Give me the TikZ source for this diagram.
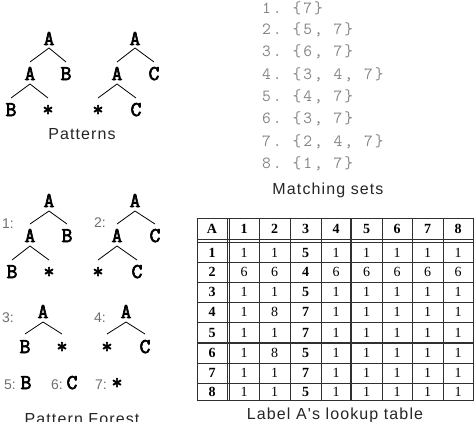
\documentclass[tikz,border=0pt]{standalone}
\usepackage{fontspec}
\setmainfont{Liberation Serif}
\newfontfamily\treefont[FakeBold=3]{Latin Modern Mono}
\newfontfamily\msfont[LetterSpace=12]{Latin Modern Mono}
\newfontfamily\capfont[LetterSpace=7]{Liberation Sans}
\newfontfamily\labfont{Liberation Sans}
\definecolor{msgray}{HTML}{858585}
\definecolor{labgray}{HTML}{707070}
\definecolor{gridc}{HTML}{303030}
\begin{document}
\begin{tikzpicture}[x=1pt,y=-1pt,
  tl/.style={font=\treefont\fontsize{21}{21}\selectfont, inner sep=0pt, anchor=base},
  br/.style={line width=0.8pt, line join=miter},
  ms/.style={font=\msfont\fontsize{17}{17}\selectfont, text=msgray, anchor=west, inner sep=0pt},
  capt/.style={font=\capfont\fontsize{16}{16}\selectfont, anchor=base, inner sep=0pt, text=black!85},
  lab/.style={font=\labfont\fontsize{14}{14}\selectfont, text=labgray, inner sep=0pt, anchor=base east},
  tbold/.style={font=\fontsize{14}{14}\selectfont\bfseries, inner sep=0pt},
  treg/.style={font=\fontsize{14}{14}\selectfont, inner sep=0pt},
  grid/.style={draw=gridc, line width=0.6pt},
  gthick/.style={draw=gridc, line width=1.4pt}]
\useasboundingbox[fill=white] (0,0) rectangle (474,421);

% ---------- Patterns ----------
\node[tl] (p1r) at (49,45) {A};
\node[tl] (p1a) at (30,80) {A};
\node[tl] (p1b) at (66,80) {B};
\node[tl] (p1bb) at (11,116) {B};
\node[tl] (p1s) at (48,116) {*};
\draw[br] ([yshift=18pt]p1a.base) -- ([yshift=-3pt]p1r.base) -- ([yshift=18pt]p1b.base);
\draw[br] ([yshift=18pt]p1bb.base) -- ([yshift=-4pt]p1a.base) -- ([yshift=18pt]p1s.base);

\node[tl] (p2r) at (135,45) {A};
\node[tl] (p2a) at (117,80) {A};
\node[tl] (p2c) at (154,80) {C};
\node[tl] (p2s) at (98,116) {*};
\node[tl] (p2cc) at (136,116) {C};
\draw[br] ([yshift=18pt]p2a.base) -- ([yshift=-3pt]p2r.base) -- ([yshift=18pt]p2c.base);
\draw[br] ([yshift=18pt]p2s.base) -- ([yshift=-4pt]p2a.base) -- ([yshift=18pt]p2cc.base);

\node[capt] (patcap) at (82,139) {Patterns};

% ---------- Matching sets ----------
\node[ms] (m1) at (262,8) {1.~\{7\}};
\node[ms] (m2) at (262,30) {2.~\{5,~7\}};
\node[ms] (m3) at (262,52) {3.~\{6,~7\}};
\node[ms] (m4) at (262,75) {4.~\{3,~4,~7\}};
\node[ms] (m5) at (262,97) {5.~\{4,~7\}};
\node[ms] (m6) at (262,119) {6.~\{3,~7\}};
\node[ms] (m7) at (262,142) {7.~\{2,~4,~7\}};
\node[ms] (m8) at (262,164) {8.~\{1,~7\}};
\node[capt] (mscap) at (328,194) {Matching sets};

% ---------- Pattern Forest ----------
\node[lab] (l1) at (14,228) {1:};
\node[tl] (f1r) at (49,207) {A};
\node[tl] (f1a) at (30,242) {A};
\node[tl] (f1b) at (67,242) {B};
\node[tl] (f1bb) at (12,278) {B};
\node[tl] (f1s) at (49,278) {*};
\draw[br] ([yshift=18pt]f1a.base) -- ([yshift=-4pt]f1r.base) -- ([yshift=18pt]f1b.base);
\draw[br] ([yshift=18pt]f1bb.base) -- ([yshift=-4pt]f1a.base) -- ([yshift=18pt]f1s.base);

\node[lab] (l2) at (106,227) {2:};
\node[tl] (f2r) at (135,207) {A};
\node[tl] (f2a) at (117,242) {A};
\node[tl] (f2c) at (155,242) {C};
\node[tl] (f2s) at (98,278) {*};
\node[tl] (f2cc) at (137,278) {C};
\draw[br] ([yshift=18pt]f2a.base) -- ([yshift=-4pt]f2r.base) -- ([yshift=18pt]f2c.base);
\draw[br] ([yshift=18pt]f2s.base) -- ([yshift=-4pt]f2a.base) -- ([yshift=18pt]f2cc.base);

\node[lab] (l3) at (14,322) {3:};
\node[tl] (f3r) at (43,318) {A};
\node[tl] (f3b) at (25,353) {B};
\node[tl] (f3s) at (62,353) {*};
\draw[br] ([yshift=19pt]f3b.base) -- ([yshift=-4pt]f3r.base) -- ([yshift=19pt]f3s.base);

\node[lab] (l4) at (106,322) {4:};
\node[tl] (f4r) at (126,318) {A};
\node[tl] (f4s) at (107,353) {*};
\node[tl] (f4c) at (145,353) {C};
\draw[br] ([yshift=19pt]f4s.base) -- ([yshift=-4pt]f4r.base) -- ([yshift=19pt]f4c.base);

\node[lab] (l5) at (16,389) {5:};
\node[tl] (f5) at (26,389) {B};
\node[lab] (l6) at (63,389) {6:};
\node[tl] (f6) at (72,389) {C};
\node[lab] (l7) at (107,389) {7:};
\node[tl] (f7) at (117,389) {*};

\node[capt] (pfcap) at (82,424) {Pattern Forest};

% ---------- Lookup table ----------
\draw[grid] (197,218) rectangle (473,400);
\draw[grid] (227,218) -- (227,400);
\draw[grid] (229.5,218) -- (229.5,400);
\foreach \x in {259,290,321,382,412,443} \draw[grid] (\x,218) -- (\x,400);
\draw[gthick] (351,218) -- (351,400);
\draw[grid] (197,239.5) -- (473,239.5);
\draw[grid] (197,242.5) -- (473,242.5);
\foreach \y in {262,282,302,322,363,383} \draw[grid] (197,\y) -- (473,\y);
\draw[gthick] (197,343) -- (473,343);

\node[tbold] (hA) at (212,229) {A};
\foreach \c/\x in {1/244,2/274.5,3/305.5,4/336,5/366.5,6/397,7/427.5,8/458}
  \node[tbold] (h\c) at (\x,229) {\c};
\foreach \r/\y in {1/252.5,2/272,3/292,4/312,5/332.5,6/353,7/373,8/391.5}
  \node[tbold] (rh\r) at (212,\y) {\r};

\foreach \r/\y/\a/\b/\cc/\d in {1/252.5/1/1/5/1, 2/272/6/6/4/6, 3/292/1/1/5/1, 4/312/1/8/7/1,
    5/332.5/1/1/7/1, 6/353/1/8/5/1, 7/373/1/1/7/1, 8/391.5/1/1/5/1}{
  \node[treg] (c\r-1) at (244,\y) {\a};
  \node[treg] (c\r-2) at (274.5,\y) {\b};
  \node[tbold] (c\r-3) at (305.5,\y) {\cc};
  \node[treg] (c\r-4) at (336,\y) {\d};
  \node[treg] (c\r-5) at (366.5,\y) {\d};
  \node[treg] (c\r-6) at (397,\y) {\d};
  \node[treg] (c\r-7) at (427.5,\y) {\d};
  \node[treg] (c\r-8) at (458,\y) {\d};
}

\node[capt] (ltcap) at (335,419) {Label A's lookup table};
\end{tikzpicture}
\end{document}
